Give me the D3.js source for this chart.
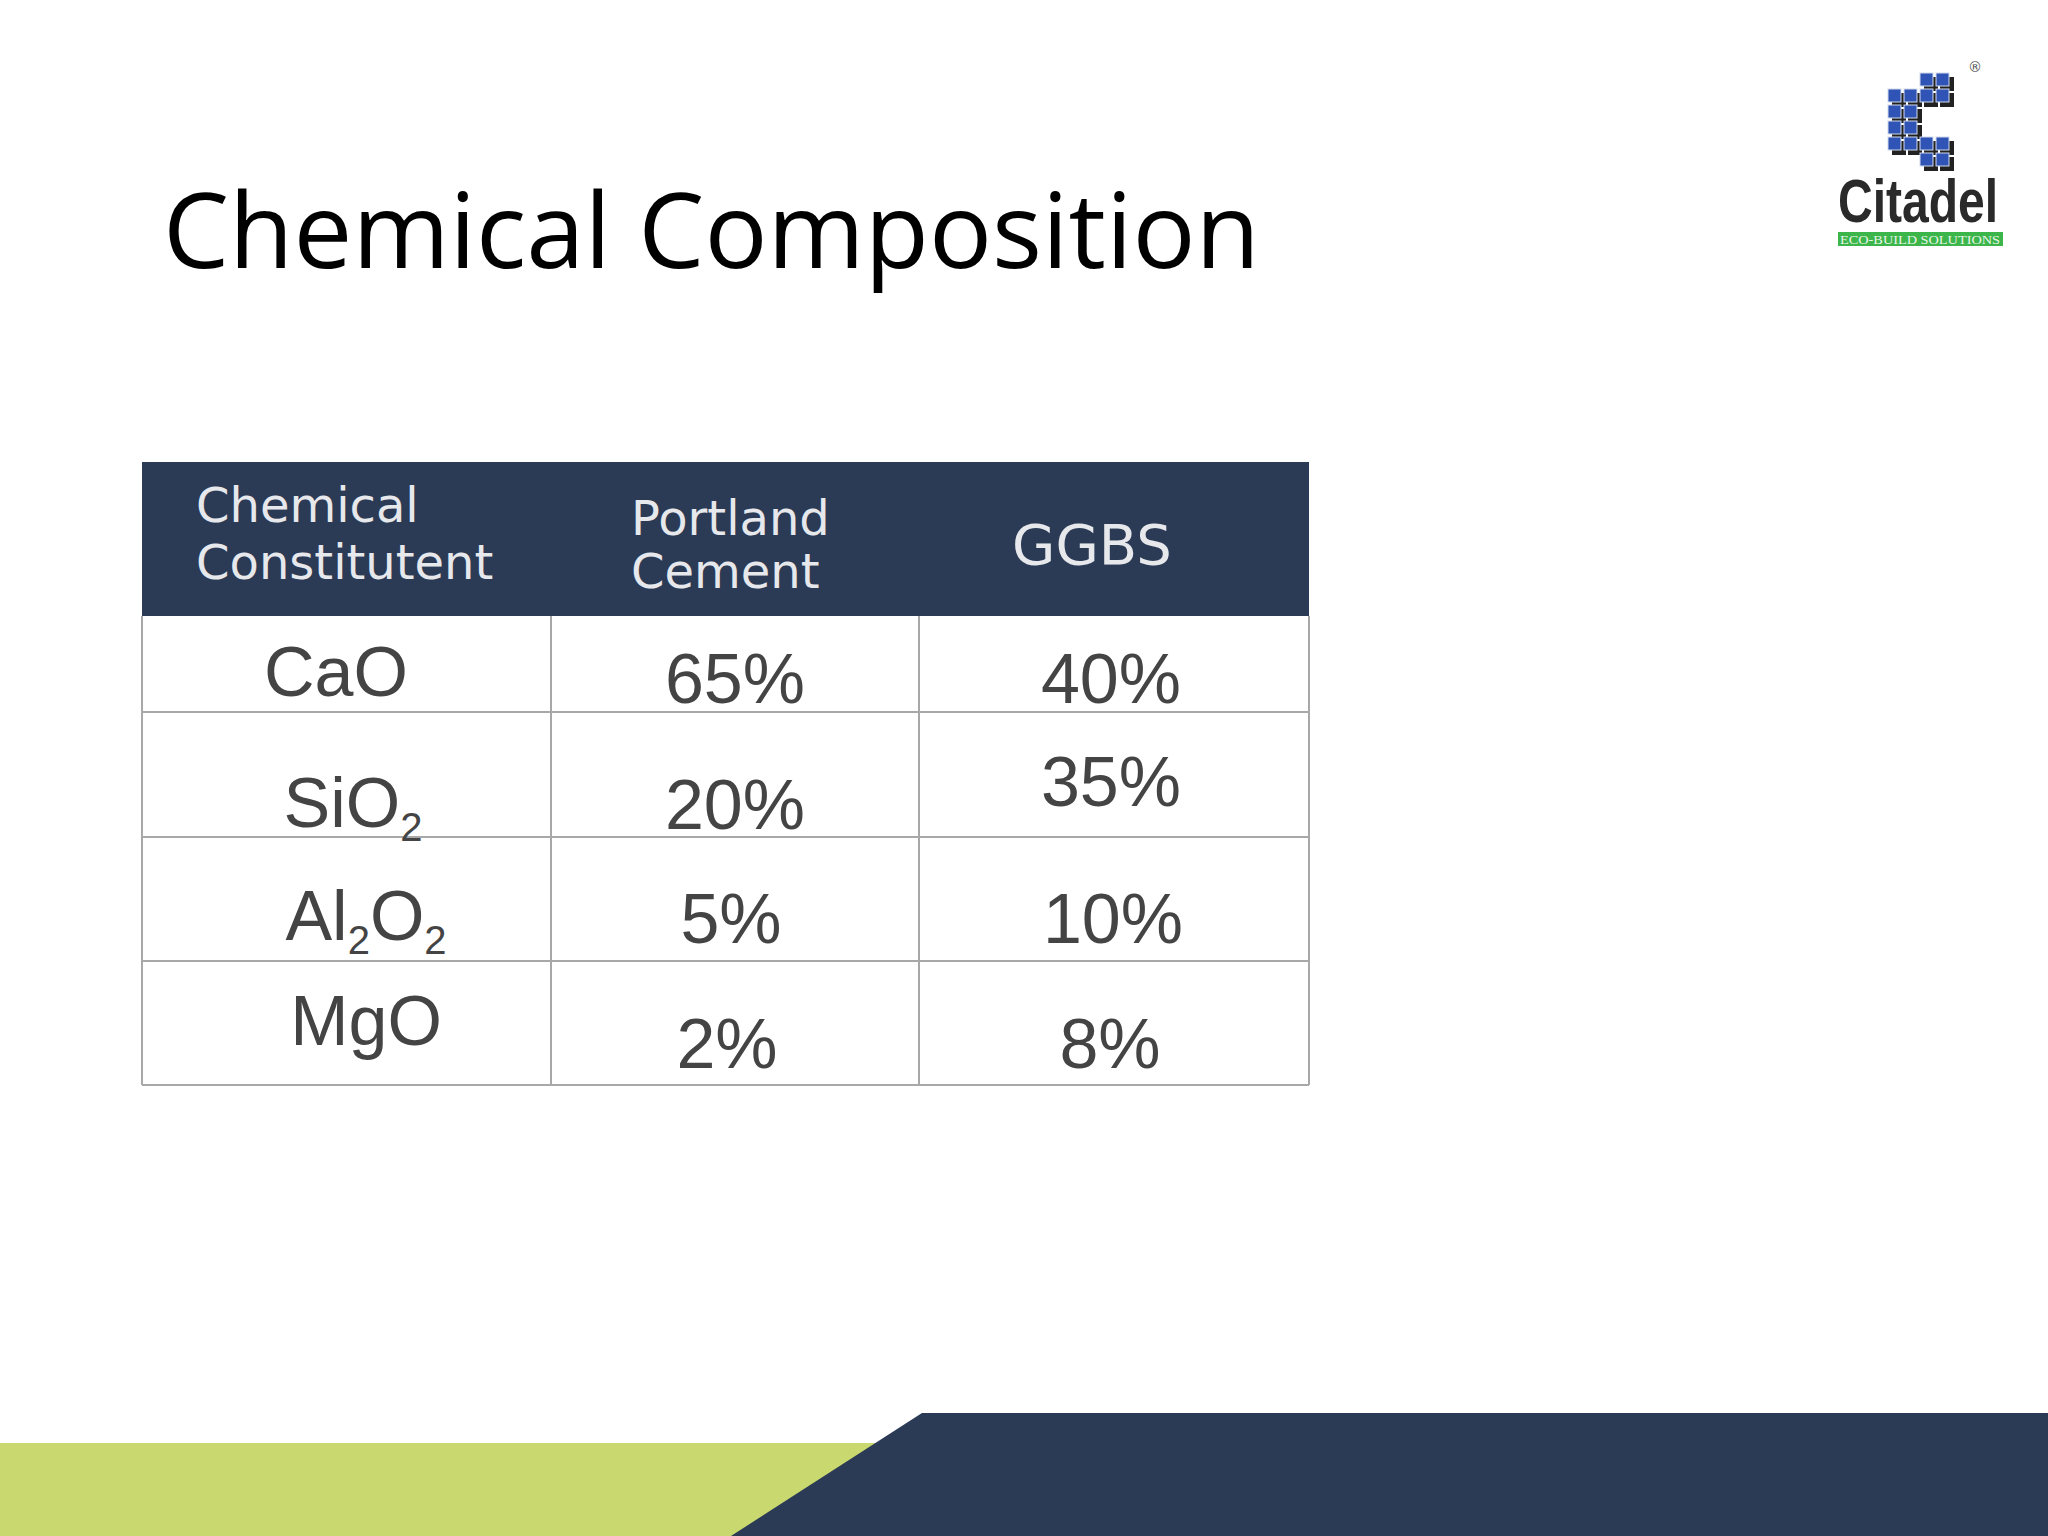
<!DOCTYPE html>
<html><head><meta charset="utf-8">
<script src="https://cdn.jsdelivr.net/npm/d3@7"></script>
<style>body{margin:0;background:#fff}svg{display:block}</style>
</head><body>
<svg id="App" width="2048" height="1536"></svg>
<script>
// table content
var headers = [["Chemical", "Constitutent"], ["Portland", "Cement"], ["GGBS"]]
var constituents = [["CaO"], ["SiO", "2"], ["Al", "2", "O", "2"], ["MgO"]]
var portland = ["65%", "20%", "5%", "2%"]
var ggbs = ["40%", "35%", "10%", "8%"]

var svg = d3.select("#App")
var navy = "#2b3a55"

// title
var title = svg.append("text").attr("x", 163).attr("y", 268)
  .style("font-family", "Open Sans").style("font-size", "100px").attr("fill", "#000")
  .text("Chemical Composition")
var tw = title.node().getComputedTextLength()
title.style("font-size", (100 * 1097 / tw) + "px")

// table geometry
var colEdges = [142, 551, 919, 1309]
var rowEdges = [616, 712, 837, 961, 1085]

svg.append("rect").attr("x", 142).attr("y", 462).attr("width", 1309 - 142).attr("height", 616 - 462).attr("fill", navy)

var g = svg.append("g").attr("stroke", "#a8a8a8").attr("stroke-width", 2)
rowEdges.slice(1).forEach(function(r){ g.append("line").attr("x1", 142).attr("x2", 1309).attr("y1", r).attr("y2", r) })
colEdges.forEach(function(c){ g.append("line").attr("x1", c).attr("x2", c).attr("y1", 616).attr("y2", 1085) })

var hx = [196, 631, 1012], hy = [[522, 579], [535, 588], [564]], hs = [48, 48, 56]
headers.forEach(function(h, i){
  h.forEach(function(t, j){
    svg.append("text").attr("x", hx[i]).attr("y", hy[i][j]).attr("fill", "#e6e8ec")
      .style("font-family", "DejaVu Sans").style("font-size", hs[i] + "px").text(t)
  })
})

var body = {fam: "Liberation Sans", size: "70px", fill: "#444"}
function cell(x, yy, parts){
  var t = svg.append("text").attr("x", x).attr("y", yy).attr("text-anchor", "middle")
    .style("font-family", body.fam).style("font-size", body.size).attr("fill", body.fill)
  var prevSub = false
  parts.forEach(function(p){
    var sub = /^\d$/.test(p)
    t.append("tspan").text(p).style("font-size", sub ? "40px" : null)
      .attr("dy", sub ? 14 : (prevSub ? -14 : 0))
    prevSub = sub
  })
  return t
}
var nameX = [336, 353, 366, 366], nameBase = [696, 827, 940, 1045]
var pcBase = [703, 829, 943, 1068], ggBase = [703, 806, 943, 1068]
var pcX = [735, 735, 731, 727], ggX = [1111, 1111, 1113, 1110]
constituents.forEach(function(c, i){
  cell(nameX[i], nameBase[i], c)
  cell(pcX[i], pcBase[i], [portland[i]])
  cell(ggX[i], ggBase[i], [ggbs[i]])
})

// footer bands
svg.append("rect").attr("x", 0).attr("y", 1443).attr("width", 1000).attr("height", 93).attr("fill", "#c9d86f")
svg.append("path").attr("d", "M922,1413L2048,1413L2048,1536L731,1536Z").attr("fill", navy)

// logo
var lg = svg.append("g")
var pattern = [[2, 3], [0, 1, 2, 3], [0, 1], [0, 1], [0, 1, 2, 3], [2, 3]]
pattern.forEach(function(cols, r){
  cols.forEach(function(c){
    lg.append("rect").attr("x", 1892 + c * 16).attr("y", 77 + r * 16).attr("width", 14).attr("height", 14).attr("fill", "#222")
    lg.append("rect").attr("x", 1888 + c * 16).attr("y", 73 + r * 16).attr("width", 13).attr("height", 13).attr("fill", "#2f54b5").attr("stroke", "#cfd8ee").attr("stroke-width", 1)
  })
})
lg.append("text").attr("x", 1975).attr("y", 72).attr("text-anchor", "middle").style("font-size", "14px").style("font-family", "DejaVu Sans").attr("fill", "#555").text("®")
lg.append("text").attr("x", 1918).attr("y", 222).attr("text-anchor", "middle").attr("textLength", 160).attr("lengthAdjust", "spacingAndGlyphs")
  .style("font-family", "Liberation Sans Narrow, Liberation Sans").style("font-weight", "bold").style("font-size", "62px").attr("fill", "#2a2a2a").text("Citadel")
lg.append("rect").attr("x", 1838).attr("y", 232).attr("width", 165).attr("height", 14).attr("fill", "#3cb54a")
lg.append("text").attr("x", 1920).attr("y", 243.5).attr("text-anchor", "middle").attr("textLength", 160).attr("lengthAdjust", "spacingAndGlyphs")
  .style("font-family", "Liberation Serif").style("font-size", "12px").attr("fill", "#e8f5e8").text("ECO-BUILD SOLUTIONS")
</script>
</body></html>
